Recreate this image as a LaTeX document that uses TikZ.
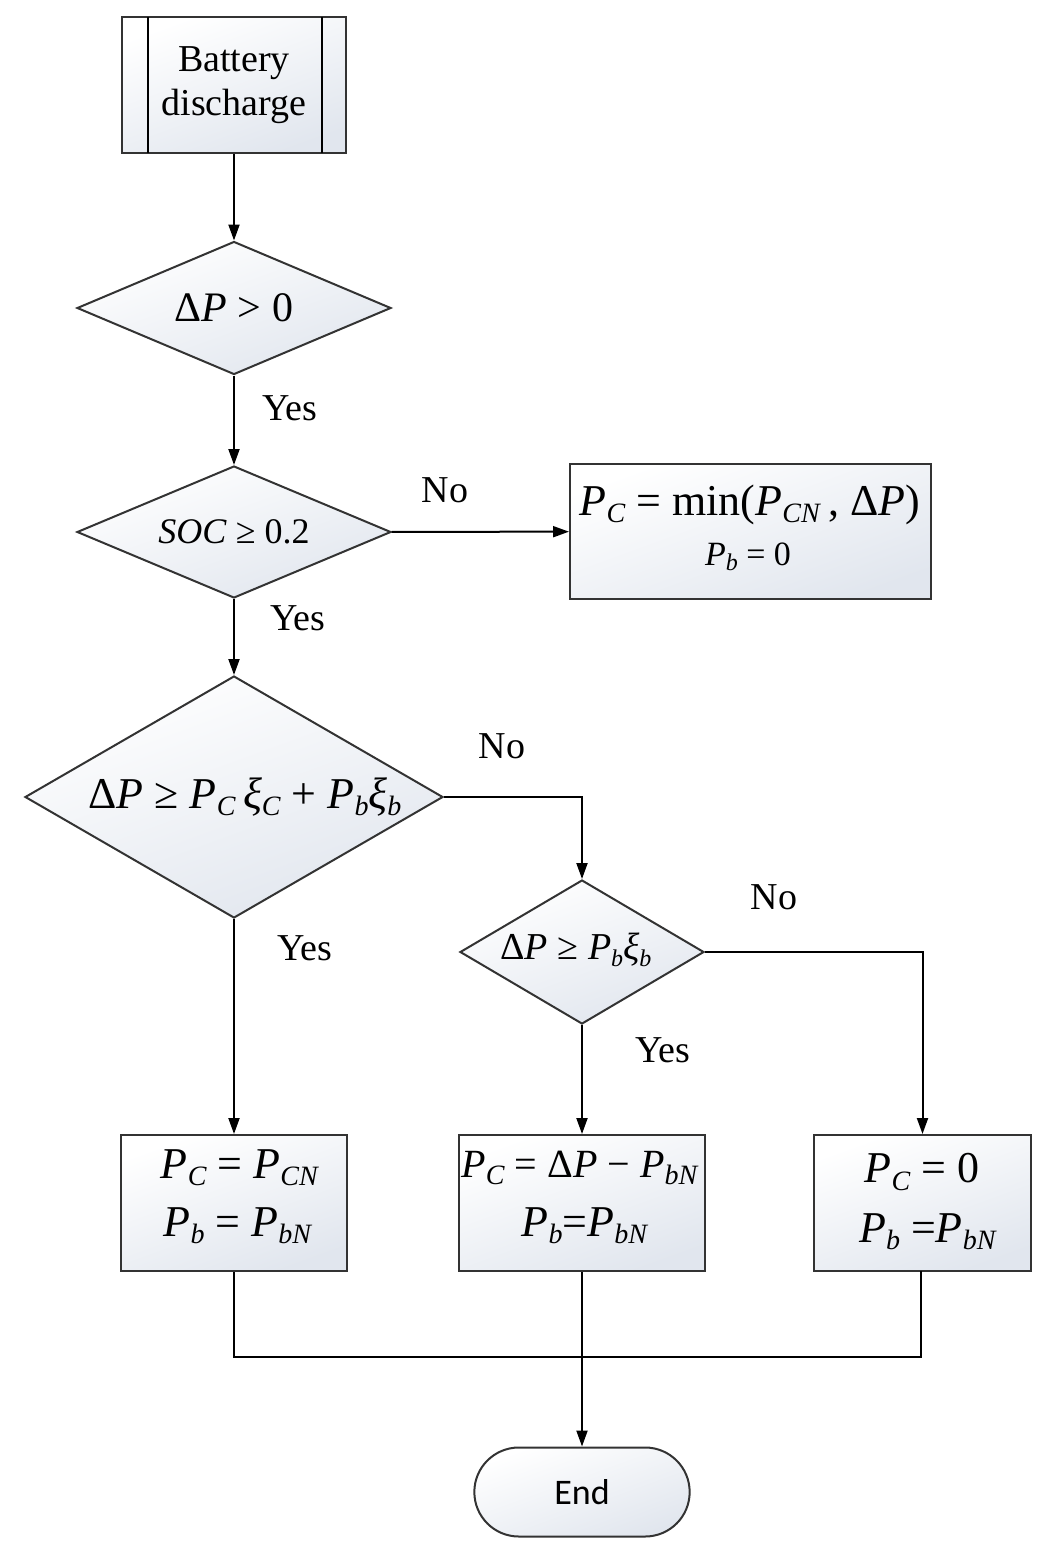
\documentclass[tikz,border=0pt]{standalone}
\usepackage{fontspec}
\setmainfont{Liberation Serif}
\newfontfamily\endfnt{Carlito}
\usetikzlibrary{shapes.geometric,shapes.misc,arrows.meta}
\newcommand{\iv}[1]{\textit{#1}}
\newcommand{\sbs}[1]{\raisebox{-0.35ex}{\fontsize{28}{28}\selectfont\textit{#1}}}
\newcommand{\fs}[1]{\fontsize{#1}{#1}\selectfont}
\begin{document}
\begin{tikzpicture}[x=1pt,y=-1pt,
  fl/.style={draw=black!80,line width=2pt,top color=white,bottom color={rgb,255:red,225;green,230;blue,238},shading angle=20},
  box/.style={fl,rectangle,inner sep=0pt,align=center},
  dia/.style={fl,diamond,inner sep=0pt},
  lbl/.style={font=\fs{38}},
  ar/.style={line width=2pt,-{Triangle[length=16pt,width=11pt]}},
  ln/.style={line width=2pt}]
\useasboundingbox (0,0) rectangle (1047,1550);
\node[box,minimum width=224pt,minimum height=136pt,font=\fontsize{38}{44}\selectfont] (s) at (234,85) {Battery\\discharge};
\draw[ln] (148,17) -- (148,153) (322,17) -- (322,153);
\node[dia,minimum width=314pt,minimum height=133pt] (d1) at (234,308) {};
\node at (d1) {\fs{42}Δ\iv{P} > 0};
\node[dia,minimum width=314pt,minimum height=132pt] (d2) at (234,532) {};
\node at (d2) {\fs{36}\iv{SOC} ≥ 0.2};
\node[box,minimum width=361pt,minimum height=135pt] (b0) at (750.5,531.5) {};
\node at (750,505) {\fs{44}\iv{P}\sbs{C} = min(\iv{P}\sbs{CN}\,, Δ\iv{P})};
\node at (748,557) {\fs{34}\iv{P}\raisebox{-0.35ex}{\fs{24}\iv{b}} = 0};
\node[dia,minimum width=418pt,minimum height=242pt] (d3) at (234,797) {};
\node at (245,797) {\fs{44}Δ\iv{P} ≥ \iv{P}\sbs{C}\,\iv{ξ}\sbs{C} + \iv{P}\sbs{b}\iv{ξ}\sbs{b}};
\node[dia,minimum width=244pt,minimum height=144pt] (d4) at (582,952) {};
\node at (576,950) {\fs{38}Δ\iv{P} ≥ \iv{P}\raisebox{-0.35ex}{\fs{24}\iv{b}}\iv{ξ}\raisebox{-0.35ex}{\fs{24}\iv{b}}};
\node[box,minimum width=226pt,minimum height=136pt] (ba) at (234,1203) {};
\node at (240,1168) {\fs{44}\iv{P}\sbs{C} = \iv{P}\sbs{CN}};
\node at (238,1226) {\fs{44}\iv{P}\sbs{b} = \iv{P}\sbs{bN}};
\node[box,minimum width=246pt,minimum height=136pt] (bb) at (582,1203) {};
\node at (580,1168) {\fs{40}\iv{P}\sbs{C} = Δ\iv{P} − \iv{P}\sbs{bN}};
\node at (585,1226) {\fs{44}\iv{P}\sbs{b}=\iv{P}\sbs{bN}};
\node[box,minimum width=217pt,minimum height=136pt] (bc) at (922.5,1203) {};
\node at (922,1172) {\fs{44}\iv{P}\sbs{C} = 0};
\node at (928,1232) {\fs{44}\iv{P}\sbs{b} =\iv{P}\sbs{bN}};
\node[fl,rounded rectangle,minimum width=222pt,minimum height=89pt,font=\endfnt\fs{36}] (e) at (582,1492) {End};
\draw[ar] (s) -- (d1);
\draw[ar] (d1) -- (d2);
\draw[ar] (d2) -- (b0);
\draw[ar] (d2) -- (d3);
\draw[ar] (d3.east) -| (d4.north);
\draw[ar] (d3.south) -- (ba.north);
\draw[ar] (d4.south) -- (bb.north);
\draw[ar] (d4.east) -| (bc.north);
\coordinate (m1) at (ba.south |- 0,1357);
\coordinate (m2) at (921,1357);
\draw[ln] (ba.south) -- (m1) -- (m2) -- (921,1271);
\draw[ar] (bb.south) -- (e.north);
\node[lbl] at (290,408) {Yes};
\node[lbl] at (445,490) {No};
\node[lbl] at (298,618) {Yes};
\node[lbl] at (502,746) {No};
\node[lbl] at (774,897) {No};
\node[lbl] at (305,948) {Yes};
\node[lbl] at (663,1050) {Yes};
\end{tikzpicture}
\end{document}
